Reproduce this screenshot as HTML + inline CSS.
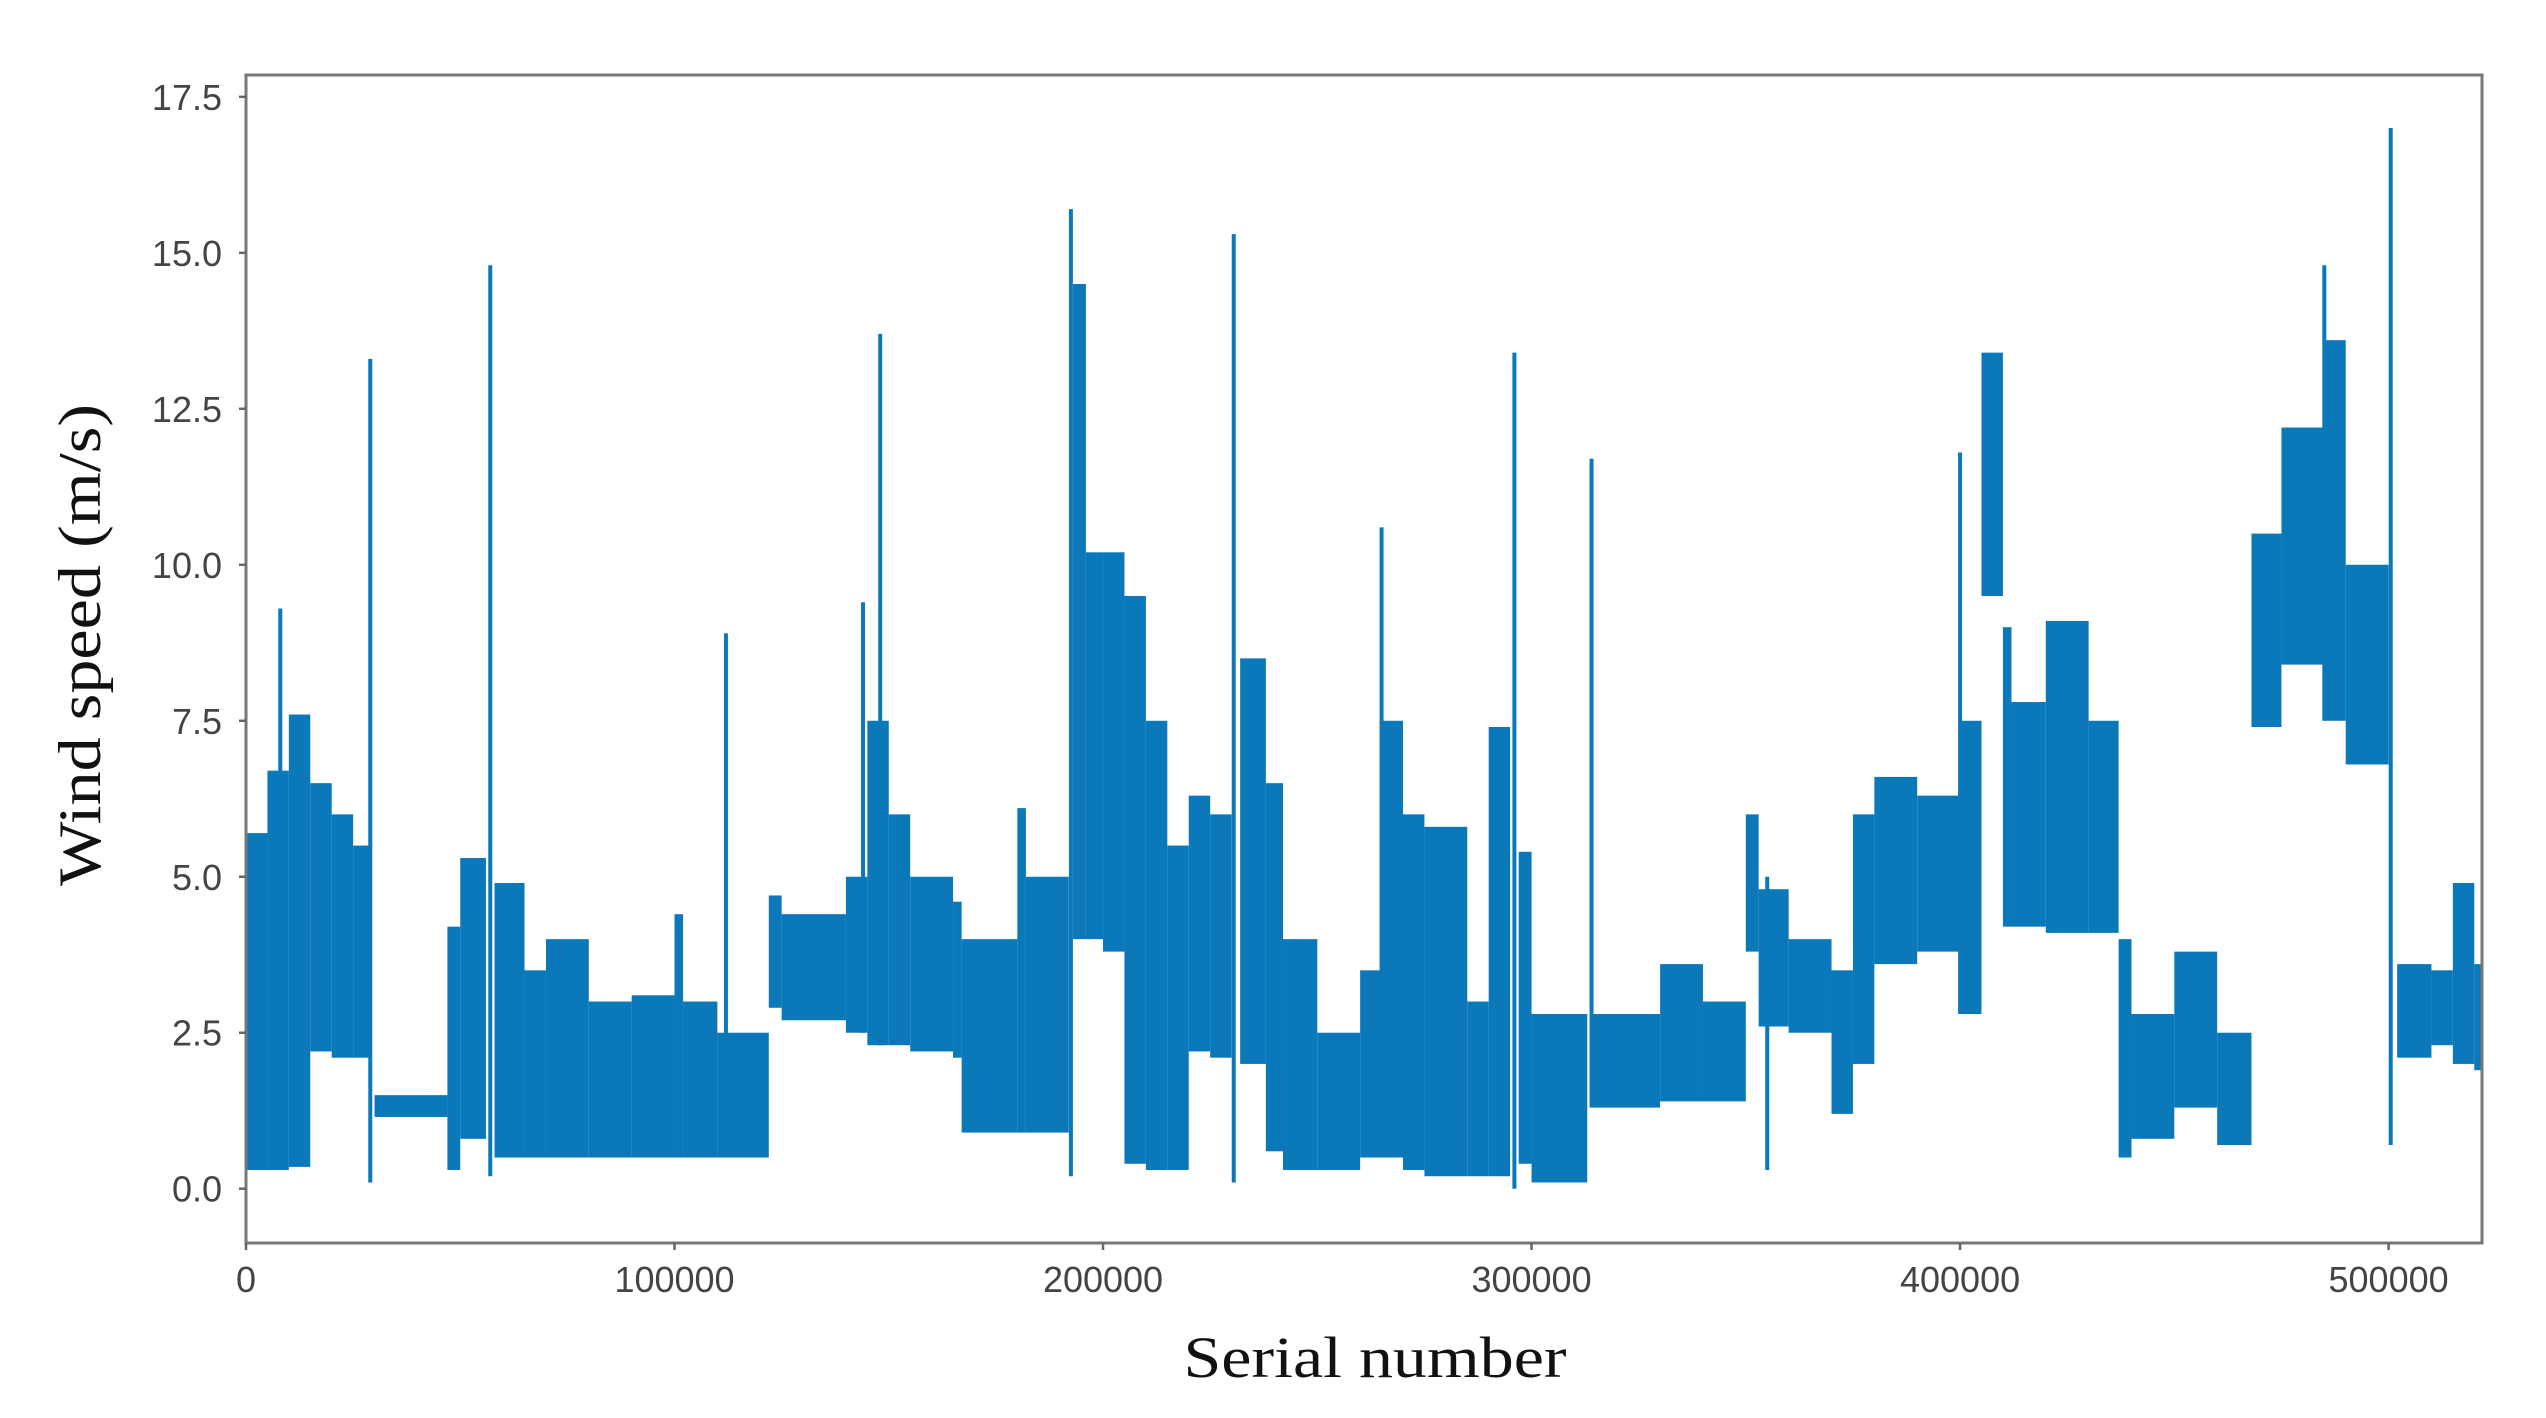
<!DOCTYPE html>
<html><head><meta charset="utf-8"><style>
html,body{margin:0;padding:0;background:#fff;}
svg{display:block;}
</style></head><body>
<svg id="chart" width="2546" height="1418" viewBox="0 0 2546 1418" xmlns="http://www.w3.org/2000/svg">
<rect x="0" y="0" width="2546" height="1418" fill="#fff"/>
<g id="series"></g>
<g id="axes"></g>
<text x="0" y="0" transform="translate(100,645) rotate(-90)" text-anchor="middle" font-family="Liberation Serif, serif" font-size="60" fill="#111" textLength="482" lengthAdjust="spacingAndGlyphs">Wind speed (m/s)</text>
<text x="1375" y="1377" text-anchor="middle" font-family="Liberation Serif, serif" font-size="58" fill="#111" textLength="383" lengthAdjust="spacingAndGlyphs">Serial number</text>
</svg>
<script>
// segment bins (serial start, end in thousands) with min / max wind speed
const segStart = [0,5,10,15,20,25,30,47,50,58,65,70,80,90,100,102,110,122,125,140,145,150,155,165,167,180,182,193,196,200,205,210,215,220,225,232,238,242,250,260,265,270,275,285,290,297,300,314,330,340,350,353,360,370,375,380,390,400,405,410,412,420,430,437,440,450,460,468,475,485,490,502,510,515,520];
const segEnd   = [5,10,15,20,25,29,47,50,56,65,70,80,90,100,102,110,122,125,140,145,150,155,165,167,180,182,192,196,200,205,210,215,220,225,230,238,242,250,260,265,270,275,285,290,295,300,313,330,340,350,353,360,370,375,380,390,400,405,410,412,420,430,437,440,450,460,468,475,485,490,500,510,515,520,522];
const segLow   = [0.3,0.3,0.35,2.2,2.1,2.1,1.15,0.3,0.8,0.5,0.5,0.5,0.5,0.5,0.5,0.5,0.5,2.9,2.7,2.5,2.3,2.3,2.2,2.1,0.9,0.9,0.9,4.0,4.0,3.8,0.4,0.3,0.3,2.2,2.1,2.0,0.6,0.3,0.3,0.5,0.5,0.3,0.2,0.2,0.2,0.4,0.1,1.3,1.4,1.4,3.8,2.6,2.5,1.2,2.0,3.6,3.8,2.8,9.5,4.2,4.2,4.1,4.1,0.5,0.8,1.3,0.7,7.4,8.4,7.5,6.8,2.1,2.3,2.0,1.9];
const segHigh  = [5.7,6.7,7.6,6.5,6.0,5.5,1.5,4.2,5.3,4.9,3.5,4.0,3.0,3.1,4.4,3.0,2.5,4.7,4.4,5.0,7.5,6.0,5.0,4.6,4.0,6.1,5.0,14.5,10.2,10.2,9.5,7.5,5.5,6.3,6.0,8.5,6.5,4.0,2.5,3.5,7.5,6.0,5.8,3.0,7.4,5.4,2.8,2.8,3.6,3.0,6.0,4.8,4.0,3.5,6.0,6.6,6.3,7.5,13.4,9.0,7.8,9.1,7.5,4.0,2.8,3.8,2.5,10.5,12.2,13.6,10.0,3.6,3.5,4.9,3.6];
// narrow spikes (serial in thousands)
const spikeX    = [8,29,57,112,144,148,192.5,230.5,265,296,314,355,400,485,500.5];
const spikeHigh = [9.3,13.3,14.8,8.9,9.4,13.7,15.7,15.3,10.6,13.4,11.7,5.0,11.8,14.8,17.0];
const spikeLow  = [0.3,0.1,0.2,0.5,2.5,2.3,0.2,0.1,0.5,0.0,1.3,0.3,2.8,7.5,0.7];
// ticks
const yTicks = [0,2.5,5,7.5,10,12.5,15,17.5];
const yTickLabels = ["0.0","2.5","5.0","7.5","10.0","12.5","15.0","17.5"];
const xTicks = [0,100000,200000,300000,400000,500000];
const xTickLabels = ["0","100000","200000","300000","400000","500000"];

const L=246,R=2482,T=75,B=1243;
const xMax=521800, yMin=-0.87, yMax=17.85;
const X=v=>L+(v/xMax)*(R-L);
const Y=v=>B-(v-yMin)/(yMax-yMin)*(B-T);
const NS="http://www.w3.org/2000/svg";
const COL="#0a78b9";
const series=document.getElementById('series');
const axes=document.getElementById('axes');
function mk(tag,attrs,parent){const e=document.createElementNS(NS,tag);for(const k in attrs)e.setAttribute(k,attrs[k]);parent.appendChild(e);return e;}

for(let i=0;i<segStart.length;i++){
  const x0=X(segStart[i]*1000), x1=X(segEnd[i]*1000);
  const r=mk('rect',{x:x0,y:Y(segHigh[i]),width:Math.max(1.5,x1-x0),height:Y(segLow[i])-Y(segHigh[i]),fill:COL},series);
  
  
}
for(let i=0;i<spikeX.length;i++){
  const x=X(spikeX[i]*1000);
  const l=mk('line',{x1:x,x2:x,y1:Y(spikeHigh[i]),y2:Y(spikeLow[i]),stroke:COL,'stroke-width':4},series);
  
  
}

const frame=mk('rect',{x:L,y:T,width:R-L,height:B-T,fill:'none',stroke:'#777','stroke-width':3},axes);


yTicks.forEach((v,i)=>{
  const y=Y(v);
  const t=mk('line',{x1:L-7,x2:L,y1:y,y2:y,stroke:'#666','stroke-width':2.5},axes);
  
  
  const tx=mk('text',{x:222,y:y+13,'text-anchor':'end','font-family':'Liberation Sans, sans-serif','font-size':36,fill:'#444'},axes);
  tx.textContent=yTickLabels[i];
  
  
});
xTicks.forEach((v,i)=>{
  const x=X(v);
  const t=mk('line',{x1:x,x2:x,y1:B,y2:B+7,stroke:'#666','stroke-width':2.5},axes);
  
  
  const tx=mk('text',{x:x,y:1292,'text-anchor':'middle','font-family':'Liberation Sans, sans-serif','font-size':36,fill:'#444'},axes);
  tx.textContent=xTickLabels[i];
  
  
});
</script>
</body></html>
